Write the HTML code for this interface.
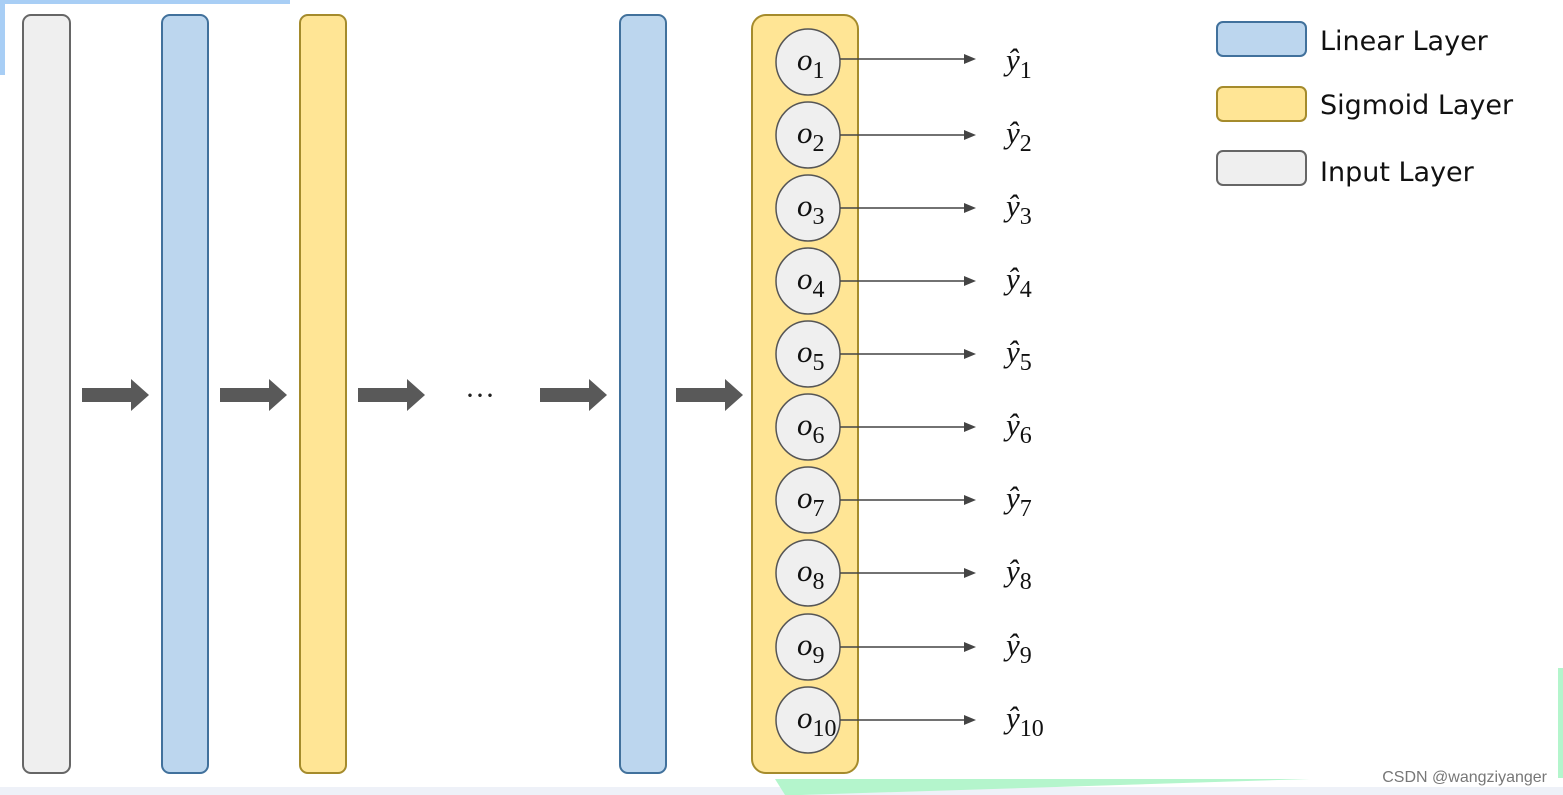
<!DOCTYPE html>
<html><head><meta charset="utf-8"><style>
body{margin:0;width:1563px;height:795px;overflow:hidden;background:#fff;position:relative;font-family:"Liberation Sans",sans-serif}
</style></head><body>
<svg width="1563" height="795" xmlns="http://www.w3.org/2000/svg" style="position:absolute;left:0;top:0">
<polygon points="0,0 290,0 290,4 5,4 5,75 0,75" fill="#a8cef5"/>
<rect x="0" y="787" width="1563" height="8" fill="#eef1f8"/>
<polygon points="775,779 1310,779 800,795 785,795" fill="#b4f5cc"/>
<rect x="1558" y="668" width="5" height="110" fill="#b4f5cc"/>
<rect x="23" y="15" width="47" height="758" rx="8" fill="#efefef" stroke="#666" stroke-width="2"/>
<rect x="162" y="15" width="46" height="758" rx="8" fill="#bcd6ee" stroke="#41719c" stroke-width="2"/>
<rect x="300" y="15" width="46" height="758" rx="8" fill="#ffe595" stroke="#a58b2c" stroke-width="2"/>
<rect x="620" y="15" width="46" height="758" rx="8" fill="#bcd6ee" stroke="#41719c" stroke-width="2"/>
<rect x="752" y="15" width="106" height="758" rx="14" fill="#ffe595" stroke="#a58b2c" stroke-width="2"/>
<g fill="#595959">
<polygon points="82,388 131,388 131,379 149,395 131,411 131,402 82,402"/>
<polygon points="220,388 269,388 269,379 287,395 269,411 269,402 220,402"/>
<polygon points="358,388 407,388 407,379 425,395 407,411 407,402 358,402"/>
<polygon points="540,388 589,388 589,379 607,395 589,411 589,402 540,402"/>
<polygon points="676,388 725,388 725,379 743,395 725,411 725,402 676,402"/>
</g>
<text x="480" y="405" font-size="30" text-anchor="middle" font-family="Liberation Serif" fill="#222">···</text>
<g fill="#efefef" stroke="#555" stroke-width="1.5">
<ellipse cx="808" cy="62" rx="32" ry="33"/><ellipse cx="808" cy="135" rx="32" ry="33"/><ellipse cx="808" cy="208" rx="32" ry="33"/><ellipse cx="808" cy="281" rx="32" ry="33"/><ellipse cx="808" cy="354" rx="32" ry="33"/><ellipse cx="808" cy="427" rx="32" ry="33"/><ellipse cx="808" cy="500" rx="32" ry="33"/><ellipse cx="808" cy="573" rx="32" ry="33"/><ellipse cx="808" cy="647" rx="32" ry="33"/><ellipse cx="808" cy="720" rx="32" ry="33"/>
</g>
<g stroke="#444" stroke-width="1.5">
<line x1="840" y1="59" x2="966" y2="59"/><line x1="840" y1="135" x2="966" y2="135"/><line x1="840" y1="208" x2="966" y2="208"/><line x1="840" y1="281" x2="966" y2="281"/><line x1="840" y1="354" x2="966" y2="354"/><line x1="840" y1="427" x2="966" y2="427"/><line x1="840" y1="500" x2="966" y2="500"/><line x1="840" y1="573" x2="966" y2="573"/><line x1="840" y1="647" x2="966" y2="647"/><line x1="840" y1="720" x2="966" y2="720"/>
</g>
<g fill="#444">
<polygon points="964,54 976,59 964,64"/><polygon points="964,130 976,135 964,140"/><polygon points="964,203 976,208 964,213"/><polygon points="964,276 976,281 964,286"/><polygon points="964,349 976,354 964,359"/><polygon points="964,422 976,427 964,432"/><polygon points="964,495 976,500 964,505"/><polygon points="964,568 976,573 964,578"/><polygon points="964,642 976,647 964,652"/><polygon points="964,715 976,720 964,725"/>
</g>
<g font-family="Liberation Serif" fill="#111" font-size="31">
<text x="797" y="70"><tspan font-style="italic">o</tspan><tspan font-size="24" dy="8">1</tspan></text>
<text x="797" y="143"><tspan font-style="italic">o</tspan><tspan font-size="24" dy="8">2</tspan></text>
<text x="797" y="216"><tspan font-style="italic">o</tspan><tspan font-size="24" dy="8">3</tspan></text>
<text x="797" y="289"><tspan font-style="italic">o</tspan><tspan font-size="24" dy="8">4</tspan></text>
<text x="797" y="362"><tspan font-style="italic">o</tspan><tspan font-size="24" dy="8">5</tspan></text>
<text x="797" y="435"><tspan font-style="italic">o</tspan><tspan font-size="24" dy="8">6</tspan></text>
<text x="797" y="508"><tspan font-style="italic">o</tspan><tspan font-size="24" dy="8">7</tspan></text>
<text x="797" y="581"><tspan font-style="italic">o</tspan><tspan font-size="24" dy="8">8</tspan></text>
<text x="797" y="655"><tspan font-style="italic">o</tspan><tspan font-size="24" dy="8">9</tspan></text>
<text x="797" y="728"><tspan font-style="italic">o</tspan><tspan font-size="24" dy="8">10</tspan></text>
</g>
<g font-family="Liberation Serif" fill="#111" font-size="31">
<text x="1006" y="70"><tspan font-style="italic">ŷ</tspan><tspan font-size="24" dy="8">1</tspan></text>
<text x="1006" y="143"><tspan font-style="italic">ŷ</tspan><tspan font-size="24" dy="8">2</tspan></text>
<text x="1006" y="216"><tspan font-style="italic">ŷ</tspan><tspan font-size="24" dy="8">3</tspan></text>
<text x="1006" y="289"><tspan font-style="italic">ŷ</tspan><tspan font-size="24" dy="8">4</tspan></text>
<text x="1006" y="362"><tspan font-style="italic">ŷ</tspan><tspan font-size="24" dy="8">5</tspan></text>
<text x="1006" y="435"><tspan font-style="italic">ŷ</tspan><tspan font-size="24" dy="8">6</tspan></text>
<text x="1006" y="508"><tspan font-style="italic">ŷ</tspan><tspan font-size="24" dy="8">7</tspan></text>
<text x="1006" y="581"><tspan font-style="italic">ŷ</tspan><tspan font-size="24" dy="8">8</tspan></text>
<text x="1006" y="655"><tspan font-style="italic">ŷ</tspan><tspan font-size="24" dy="8">9</tspan></text>
<text x="1006" y="728"><tspan font-style="italic">ŷ</tspan><tspan font-size="24" dy="8">10</tspan></text>
</g>
<rect x="1217" y="22" width="89" height="34" rx="6" fill="#bcd6ee" stroke="#41719c" stroke-width="2"/>
<rect x="1217" y="87" width="89" height="34" rx="6" fill="#ffe595" stroke="#a58b2c" stroke-width="2"/>
<rect x="1217" y="151" width="89" height="34" rx="6" fill="#efefef" stroke="#666" stroke-width="2"/>
<g font-family="DejaVu Sans" font-size="27" fill="#111">
<text x="1320" y="50">Linear Layer</text>
<text x="1320" y="114">Sigmoid Layer</text>
<text x="1320" y="181">Input Layer</text>
</g>
<text x="1547" y="782" text-anchor="end" font-size="16" fill="#777" font-family="Liberation Sans">CSDN @wangziyanger</text>
</svg>
</body></html>
